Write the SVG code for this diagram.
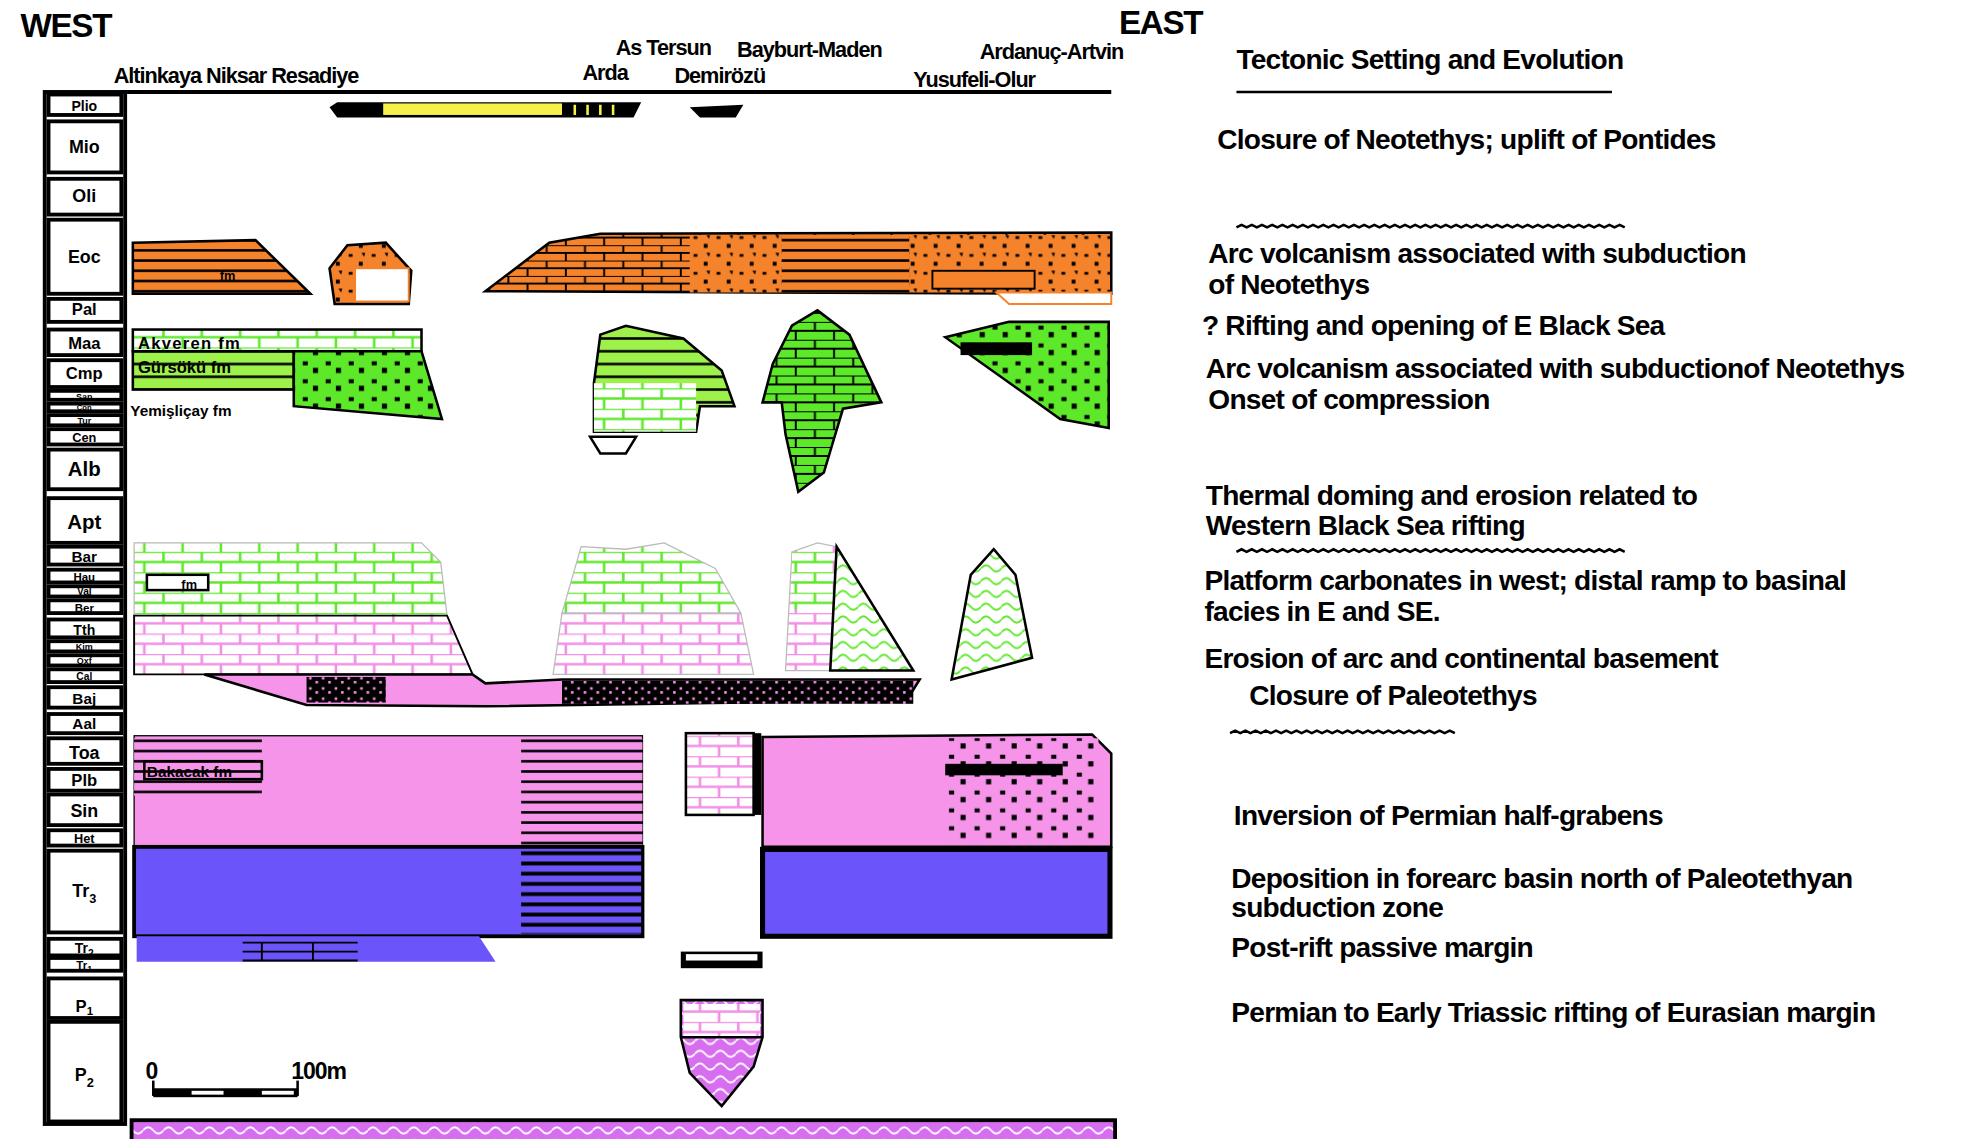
<svg xmlns="http://www.w3.org/2000/svg" width="1981" height="1139" viewBox="0 0 1981 1139">
<style>
.t{font-family:"Liberation Sans",Arial,sans-serif;font-weight:bold;fill:#000}
.bx{fill:#fff;stroke:#000;stroke-width:3}
.ol{stroke:#000;stroke-width:2}
.bl{font-size:11px;text-anchor:middle}
.rt{font-size:22px;letter-spacing:-0.6px}
.hl{font-size:17px;letter-spacing:-0.8px}
</style>
<defs>
<pattern id="gbr" patternUnits="userSpaceOnUse" width="30" height="16"><rect width="30" height="16" fill="#fff"/><path d="M0 0H30M0 8H30M8 0V8M23 8V16" stroke="#5ee82a" stroke-width="2"/></pattern>
<pattern id="pbr" patternUnits="userSpaceOnUse" width="30" height="16"><rect width="30" height="16" fill="#fff"/><path d="M0 0H30M0 8H30M8 0V8M23 8V16" stroke="#f28ee6" stroke-width="2"/></pattern>
<pattern id="obr" patternUnits="userSpaceOnUse" width="30" height="12"><rect width="30" height="12" fill="#f5832c"/><path d="M0 0H30M0 6H30M8 0V6M23 6V12" stroke="#000" stroke-width="1.5"/></pattern>
<pattern id="olin" patternUnits="userSpaceOnUse" width="10" height="8"><rect width="10" height="8" fill="#f5832c"/><path d="M0 4H10" stroke="#000" stroke-width="2"/></pattern>
<pattern id="odot" patternUnits="userSpaceOnUse" width="18" height="14"><rect width="18" height="14" fill="#f5832c"/><path d="M3 3h3v2h-3zM11 9h3v3h-3zM13 2l3 0-1 3z" fill="#000"/></pattern>
<pattern id="gdot" patternUnits="userSpaceOnUse" width="18" height="14"><rect width="18" height="14" fill="#5ee82a"/><path d="M3 3h4v3h-4zM11 8h4v4h-4z" fill="#000"/></pattern>
<pattern id="glin" patternUnits="userSpaceOnUse" width="10" height="10"><rect width="10" height="10" fill="#9ef04a"/><path d="M0 5H10" stroke="#000" stroke-width="2"/></pattern>
<pattern id="ggbr" patternUnits="userSpaceOnUse" width="30" height="14"><rect width="30" height="14" fill="#5ee82a"/><path d="M0 0H30M0 7H30M8 0V7M23 7V14" stroke="#000" stroke-width="1.5"/></pattern>
<pattern id="pwav" patternUnits="userSpaceOnUse" width="16" height="10"><rect width="16" height="10" fill="#fff"/><path d="M0 5Q4 0 8 5T16 5" fill="none" stroke="#5ee82a" stroke-width="1.5"/></pattern>
<pattern id="mwav" patternUnits="userSpaceOnUse" width="16" height="10"><rect width="16" height="10" fill="#d76ef0"/><path d="M0 5Q4 0 8 5T16 5" fill="none" stroke="#fff" stroke-width="1.5"/></pattern>
<pattern id="plin" patternUnits="userSpaceOnUse" width="10" height="8"><rect width="10" height="8" fill="#f594e8"/><path d="M0 4H10" stroke="#000" stroke-width="2"/></pattern>
<pattern id="blin" patternUnits="userSpaceOnUse" width="10" height="8"><rect width="10" height="8" fill="#6b55fa"/><path d="M0 4H10" stroke="#000" stroke-width="3"/></pattern>
<pattern id="pdot" patternUnits="userSpaceOnUse" width="20" height="14"><rect width="20" height="14" fill="#f594e8"/><path d="M3 3h4v3h-4zM12 8h4v4h-4z" fill="#000"/></pattern>
<pattern id="pblk" patternUnits="userSpaceOnUse" width="10" height="8"><rect width="10" height="8" fill="#000"/><path d="M2 2h2v2h-2zM7 5h2v2h-2z" fill="#f594e8"/></pattern>
</defs>
<g transform="scale(1.2773)">
<g id="titles">
<text class="t" x="16" y="29" font-size="26" letter-spacing="-1">WEST</text>
<text class="t" x="876" y="27" font-size="26" letter-spacing="-1">EAST</text>
<text class="t hl" x="89" y="65" font-size="19">Altinkaya Niksar Resadiye</text>
<text class="t hl" x="482" y="43">As Tersun</text>
<text class="t hl" x="577" y="45" font-size="18">Bayburt-Maden</text>
<text class="t hl" x="767" y="46">Ardanuç-Artvin</text>
<text class="t hl" x="456" y="63">Arda</text>
<text class="t hl" x="528" y="65">Demirözü</text>
<text class="t hl" x="715" y="68">Yusufeli-Olur</text>
<line x1="95" y1="72" x2="870" y2="72" stroke="#000" stroke-width="3"/>
</g>
<g id="timescale">
<rect x="35" y="72" width="63" height="808" fill="none" stroke="#000" stroke-width="3"/>
<g class="bx">
<rect x="38" y="74" width="57" height="16"/><rect x="38" y="95" width="57" height="40"/><rect x="38" y="140" width="57" height="28"/><rect x="38" y="172" width="57" height="58"/><rect x="38" y="234" width="57" height="18"/><rect x="38" y="258" width="57" height="20"/><rect x="38" y="282" width="57" height="21"/><rect x="38" y="306" width="57" height="7"/><rect x="38" y="316" width="57" height="6"/><rect x="38" y="325" width="57" height="8"/><rect x="38" y="336" width="57" height="12"/><rect x="38" y="352" width="57" height="31"/><rect x="38" y="390" width="57" height="35"/><rect x="38" y="428" width="57" height="14"/><rect x="38" y="446" width="57" height="10"/><rect x="38" y="459" width="57" height="8"/><rect x="38" y="470" width="57" height="10"/><rect x="38" y="485" width="57" height="14"/><rect x="38" y="502" width="57" height="8"/><rect x="38" y="513" width="57" height="8"/><rect x="38" y="524" width="57" height="10"/><rect x="38" y="538" width="57" height="16"/><rect x="38" y="559" width="57" height="15"/><rect x="38" y="578" width="57" height="20"/><rect x="38" y="602" width="57" height="17"/><rect x="38" y="622" width="57" height="24"/><rect x="38" y="650" width="57" height="12"/><rect x="38" y="666" width="57" height="64"/><rect x="38" y="735" width="57" height="13"/><rect x="38" y="750" width="57" height="10"/><rect x="38" y="766" width="57" height="31"/><rect x="38" y="800" width="57" height="78"/>
</g>
<g class="t bl">
<text x="66" y="87">Plio</text><text x="66" y="120" font-size="14">Mio</text><text x="66" y="158" font-size="14">Oli</text><text x="66" y="206" font-size="14">Eoc</text><text x="66" y="247" font-size="13">Pal</text><text x="66" y="273" font-size="13">Maa</text><text x="66" y="297" font-size="13">Cmp</text><text x="66" y="313" font-size="7">San</text><text x="66" y="321" font-size="6">Con</text><text x="66" y="332" font-size="7">Tur</text><text x="66" y="346" font-size="10">Cen</text><text x="66" y="373" font-size="16">Alb</text><text x="66" y="414" font-size="16">Apt</text><text x="66" y="440" font-size="12">Bar</text><text x="66" y="455" font-size="9">Hau</text><text x="66" y="466" font-size="8">Val</text><text x="66" y="479" font-size="9">Ber</text><text x="66" y="497" font-size="11">Tth</text><text x="66" y="509" font-size="7">Kim</text><text x="66" y="520" font-size="7">Oxf</text><text x="66" y="532" font-size="8">Cal</text><text x="66" y="551" font-size="12">Baj</text><text x="66" y="571" font-size="12">Aal</text><text x="66" y="594" font-size="14">Toa</text><text x="66" y="615" font-size="13">Plb</text><text x="66" y="640" font-size="14">Sin</text><text x="66" y="660" font-size="10">Het</text><text x="66" y="702" font-size="14">Tr<tspan font-size="10" dy="5">3</tspan></text><text x="66" y="746" font-size="11">Tr<tspan font-size="8" dy="3">2</tspan></text><text x="66" y="759" font-size="9">Tr<tspan font-size="7" dy="2">1</tspan></text><text x="66" y="792" font-size="13">P<tspan font-size="9" dy="3">1</tspan></text><text x="66" y="846" font-size="14">P<tspan font-size="10" dy="5">2</tspan></text>
</g>
</g>
<g id="neogene">
<polygon points="258,84 264,80 502,80 496,92 264,92" fill="#000"/>
<rect x="300" y="81" width="140" height="9" fill="#f5f04a"/>
<path d="M450 82V90M460 82V90M470 82V90M480 82V90" stroke="#f5f04a" stroke-width="2"/>
<polygon points="540,84 582,82 576,92 548,92" fill="#000"/>
</g>
<g id="eocene">
<polygon points="104,190 200,188 243,230 104,230" fill="url(#olin)" class="ol"/>
<path d="M262,238 L258,210 L272,192 L302,190 L322,212 L320,238 Z" fill="url(#odot)" class="ol"/>
<rect x="278" y="210" width="42" height="26" fill="#fff" stroke="#f5832c" stroke-width="1.5"/>
<polygon points="380,228 430,190 470,183 870,182 870,230" fill="url(#obr)" class="ol"/>
<rect x="540" y="184" width="72" height="45" fill="url(#odot)"/>
<rect x="612" y="184" width="100" height="45" fill="url(#olin)"/>
<rect x="712" y="184" width="157" height="45" fill="url(#odot)"/>
<rect x="730" y="212" width="80" height="14" fill="#f5832c" stroke="#000" stroke-width="1.5"/>
<polygon points="780,229 870,229 870,238 790,238" fill="#fff" stroke="#f5832c" stroke-width="1.5"/>
<text class="t" x="172" y="219" font-size="10">fm</text>
</g>
<g id="upper-cretaceous">
<rect x="104" y="258" width="226" height="17" fill="url(#gbr)" class="ol"/>
<rect x="104" y="275" width="126" height="30" fill="url(#glin)" class="ol"/>
<polygon points="230,275 330,275 346,328 230,318" fill="url(#gdot)" class="ol"/>
<text class="t" x="108" y="273" font-size="13" letter-spacing="1">Akveren fm</text>
<text class="t" x="108" y="292" font-size="13">Gürsökü fm</text>
<text class="t" x="102" y="326" font-size="12">Yemişliçay fm</text>
<path d="M465,300 L470,262 L490,255 L535,265 L565,290 L575,318 L548,318 L545,338 L465,338 Z" fill="url(#glin)" class="ol"/>
<rect x="465" y="300" width="80" height="38" fill="url(#gbr)"/>
<polygon points="462,342 498,342 490,355 470,355" fill="#fff" class="ol"/>
<path d="M620,255 L640,243 L665,262 L690,315 L660,320 L645,370 L625,385 L615,340 L612,315 L597,315 L605,285 Z" fill="url(#ggbr)" class="ol"/>
<polygon points="740,264 790,252 868,252 868,335 830,328" fill="url(#gdot)" class="ol"/>
<rect x="752" y="268" width="56" height="10" fill="#000"/>
</g>
<g id="lower-cretaceous">
<polygon points="105,425 330,425 345,440 350,482 105,482" fill="url(#gbr)" stroke="#bbb" stroke-width="1"/>
<polygon points="105,482 350,482 370,528 105,528" fill="url(#pbr)" stroke="#000" stroke-width="1.5"/>
<rect x="115" y="450" width="48" height="12" fill="#fff" class="ol"/>
<text class="t" x="142" y="461" font-size="10">fm</text>
<polygon points="160,528 370,528 380,535 440,532 720,532 710,548 380,553 240,552" fill="#f594e8" class="ol"/>
<rect x="240" y="530" width="62" height="20" fill="url(#pblk)"/>
<rect x="440" y="533" width="275" height="18" fill="url(#pblk)"/>
<polygon points="455,428 490,430 520,425 560,445 580,480 440,480" fill="url(#gbr)" stroke="#bbb" stroke-width="1"/>
<polygon points="440,480 580,480 590,528 433,528" fill="url(#pbr)" stroke="#bbb" stroke-width="1"/>
<polygon points="620,432 640,425 655,428 650,525 615,525" fill="url(#pbr)" stroke="#bbb" stroke-width="1"/>
<rect x="620" y="432" width="32" height="45" fill="url(#gbr)"/>
<polygon points="655,428 715,525 650,525" fill="url(#pwav)" class="ol"/>
<path d="M745,532 L760,450 L778,430 L795,450 L808,515 Z" fill="url(#pwav)" class="ol"/>
</g>
<g id="jurassic">
<rect x="105" y="576" width="398" height="87" fill="#f594e8" stroke="#000" stroke-width="1"/>
<rect x="105" y="578" width="100" height="45" fill="url(#plin)"/>
<rect x="408" y="578" width="95" height="84" fill="url(#plin)"/>
<rect x="113" y="596" width="92" height="14" fill="none" class="ol"/>
<text class="t" x="115" y="608" font-size="12">Bakacak fm</text>
<rect x="537" y="574" width="53" height="64" fill="url(#pbr)" class="ol"/>
<rect x="590" y="574" width="6" height="64" fill="#000"/>
<polygon points="597,577 855,575 870,590 870,663 597,663" fill="#f594e8" class="ol"/>
<rect x="740" y="578" width="120" height="82" fill="url(#pdot)"/>
<rect x="740" y="598" width="92" height="9" fill="#000"/>
</g>
<g id="triassic">
<rect x="105" y="663" width="398" height="70" fill="#6b55fa" stroke="#000" stroke-width="3"/>
<rect x="408" y="665" width="94" height="66" fill="url(#blin)"/>
<rect x="597" y="665" width="272" height="68" fill="#6b55fa" stroke="#000" stroke-width="4"/>
<polygon points="107,733 375,733 388,753 107,753" fill="#6b55fa"/>
<path d="M190,738H280M190,745H280M190,752H280M205,738V752M245,738V752" stroke="#000" stroke-width="1.5"/>
<rect x="533" y="745" width="64" height="13" fill="#000"/>
<rect x="537" y="747" width="56" height="5" fill="#fff"/>
</g>
<g id="permian">
<path d="M533,783 L597,783 L597,812 L590,835 L565,866 L540,840 L533,812 Z" fill="url(#mwav)" class="ol"/>
<rect x="535" y="786" width="60" height="26" fill="url(#pbr)"/>
<line x1="533" y1="812" x2="597" y2="812" stroke="#000" stroke-width="2"/>
<rect x="103" y="877" width="770" height="23" fill="url(#mwav)" stroke="#000" stroke-width="3"/>
</g>
<g id="scale">
<text class="t" x="114" y="845" font-size="18">0</text>
<text class="t" x="228" y="845" font-size="18" letter-spacing="-0.8">100m</text>
<rect x="120" y="852" width="113" height="7" fill="#000"/>
<rect x="150" y="854" width="25" height="3" fill="#fff"/><rect x="205" y="854" width="25" height="3" fill="#fff"/>
<line x1="120" y1="846" x2="120" y2="858" stroke="#000" stroke-width="2"/>
<line x1="233" y1="846" x2="233" y2="858" stroke="#000" stroke-width="2"/>
</g>
<g id="tectonics">
<text class="t rt" x="968" y="54" font-size="19">Tectonic Setting and Evolution</text>
<line x1="968" y1="72" x2="1262" y2="72" stroke="#000" stroke-width="2"/>
<text class="t rt" x="953" y="117">Closure of Neotethys;  uplift of Pontides</text>
<path d="M968,178 l4,-2 4,2 4,-2 4,2 4,-2 4,2 4,-2 4,2 4,-2 4,2 4,-2 4,2 4,-2 4,2 4,-2 4,2 4,-2 4,2 4,-2 4,2 4,-2 4,2 4,-2 4,2 4,-2 4,2 4,-2 4,2 4,-2 4,2 4,-2 4,2 4,-2 4,2 4,-2 4,2 4,-2 4,2 4,-2 4,2 4,-2 4,2 4,-2 4,2 4,-2 4,2 4,-2 4,2 4,-2 4,2 4,-2 4,2 4,-2 4,2 4,-2 4,2 4,-2 4,2 4,-2 4,2 4,-2 4,2 4,-2 4,2 4,-2 4,2 4,-2 4,2 4,-2 4,2 4,-2 4,2 4,-2 4,2 4,-2 4,2" fill="none" stroke="#000" stroke-width="2"/>
<text class="t rt" x="946" y="206">Arc volcanism associated with subduction</text>
<text class="t rt" x="946" y="230">of Neotethys</text>
<text class="t rt" x="941" y="262">? Rifting and opening of E Black Sea</text>
<text class="t rt" x="944" y="296">Arc volcanism associated with subductionof Neotethys</text>
<text class="t rt" x="946" y="320">Onset of compression</text>
<text class="t rt" x="944" y="395">Thermal  doming and erosion related to</text>
<text class="t rt" x="944" y="419">Western Black Sea rifting</text>
<path d="M968,432 l4,-2 4,2 4,-2 4,2 4,-2 4,2 4,-2 4,2 4,-2 4,2 4,-2 4,2 4,-2 4,2 4,-2 4,2 4,-2 4,2 4,-2 4,2 4,-2 4,2 4,-2 4,2 4,-2 4,2 4,-2 4,2 4,-2 4,2 4,-2 4,2 4,-2 4,2 4,-2 4,2 4,-2 4,2 4,-2 4,2 4,-2 4,2 4,-2 4,2 4,-2 4,2 4,-2 4,2 4,-2 4,2 4,-2 4,2 4,-2 4,2 4,-2 4,2 4,-2 4,2 4,-2 4,2 4,-2 4,2 4,-2 4,2 4,-2 4,2 4,-2 4,2 4,-2 4,2 4,-2 4,2 4,-2 4,2 4,-2 4,2" fill="none" stroke="#000" stroke-width="2"/>
<text class="t rt" x="943" y="462">Platform carbonates in west; distal ramp to basinal</text>
<text class="t rt" x="943" y="486">facies in E and SE.</text>
<text class="t rt" x="943" y="523">Erosion of arc and continental basement</text>
<text class="t rt" x="978" y="552">Closure of Paleotethys</text>
<path d="M963,574 l4,-2 4,2 4,-2 4,2 4,-2 4,2 4,-2 4,2 4,-2 4,2 4,-2 4,2 4,-2 4,2 4,-2 4,2 4,-2 4,2 4,-2 4,2 4,-2 4,2 4,-2 4,2 4,-2 4,2 4,-2 4,2 4,-2 4,2 4,-2 4,2 4,-2 4,2 4,-2 4,2 4,-2 4,2 4,-2 4,2 4,-2 4,2 4,-2 4,2" fill="none" stroke="#000" stroke-width="2"/>
<text class="t rt" x="966" y="646">Inversion of Permian half-grabens</text>
<text class="t rt" x="964" y="695">Deposition in forearc basin north of Paleotethyan</text>
<text class="t rt" x="964" y="718">subduction zone</text>
<text class="t rt" x="964" y="749">Post-rift passive margin</text>
<text class="t rt" x="964" y="800">Permian to Early Triassic rifting of Eurasian margin</text>
</g>
</g>
</svg>
